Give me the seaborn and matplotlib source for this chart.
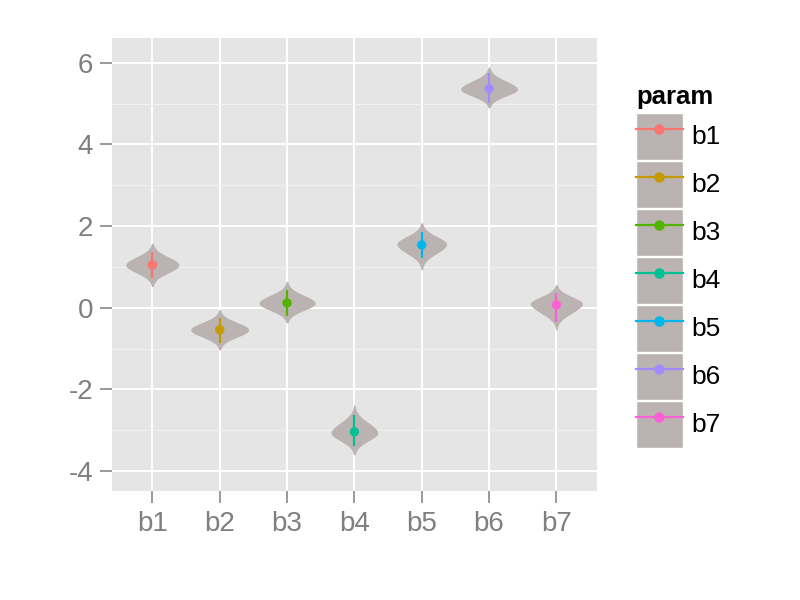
import pandas as pd
import matplotlib
matplotlib.use("Agg")
import matplotlib.pyplot as plt
from matplotlib.patches import Patch
from matplotlib.lines import Line2D
from matplotlib.legend_handler import HandlerTuple
import seaborn as sns

# parameters
params = ["b1", "b2", "b3", "b4", "b5", "b6", "b7"]
colors = ["#F8766D", "#C49A00", "#53B400", "#00C094", "#00B6EB", "#A58AFF", "#FB61D7"]

# binned posterior draws: value of each bin per parameter, and how many draws fall in it
draw_counts = [1, 2, 5, 13, 24, 35, 40, 35, 24, 13, 5, 2, 1]
draws_b1 = [0.52, 0.607, 0.696, 0.785, 0.873, 0.961, 1.05, 1.139, 1.227, 1.316, 1.404, 1.493, 1.58]
draws_b2 = [-1.03, -0.948, -0.866, -0.785, -0.703, -0.622, -0.54, -0.459, -0.377, -0.296, -0.214, -0.133, -0.05]
draws_b3 = [-0.37, -0.288, -0.206, -0.125, -0.043, 0.039, 0.12, 0.207, 0.293, 0.38, 0.466, 0.553, 0.64]
draws_b4 = [-3.6, -3.508, -3.414, -3.321, -3.227, -3.134, -3.04, -2.93, -2.82, -2.71, -2.6, -2.49, -2.38]
draws_b5 = [0.93, 1.033, 1.134, 1.236, 1.337, 1.439, 1.54, 1.63, 1.72, 1.81, 1.9, 1.99, 2.08]
draws_b6 = [4.9, 4.978, 5.056, 5.134, 5.213, 5.292, 5.37, 5.458, 5.547, 5.636, 5.724, 5.812, 5.9]
draws_b7 = [-0.54, -0.437, -0.336, -0.235, -0.133, -0.032, 0.07, 0.152, 0.233, 0.315, 0.396, 0.478, 0.56]

# point estimate and interval per parameter
means = [1.05, -0.54, 0.12, -3.04, 1.54, 5.37, 0.07]
lows = [0.74, -0.86, -0.20, -3.40, 1.23, 5.02, -0.34]
highs = [1.37, -0.25, 0.44, -2.62, 1.86, 5.76, 0.37]

yticks = [-4, -2, 0, 2, 4, 6]

all_draws = [draws_b1, draws_b2, draws_b3, draws_b4, draws_b5, draws_b6, draws_b7]
bins = pd.DataFrame({
    "param": [p for p, d in zip(params, all_draws) for _ in d],
    "value": [v for d in all_draws for v in d],
    "n": draw_counts * len(params),
})
long = bins.loc[bins.index.repeat(bins["n"])].reset_index(drop=True)
summ = pd.DataFrame({"param": params, "mean": means, "lo": lows, "hi": highs})

plt.rcParams["font.family"] = ["Liberation Sans", "DejaVu Sans"]
plt.rcParams["axes.unicode_minus"] = False

fig = plt.figure(figsize=(8, 6), dpi=100)
ax = fig.add_axes([0.14, 0.1817, 0.606, 0.755])
ax.set_facecolor("#E5E5E5")

violin_fill = "#BBB3B1"
sns.violinplot(data=long, x="param", y="value", order=params, color=violin_fill,
               inner=None, cut=0, linewidth=0, width=0.86, density_norm="area",
               bw_adjust=1.3, saturation=1, ax=ax, zorder=3)

ax.vlines(range(len(params)), summ["lo"], summ["hi"], colors=colors, linewidth=1.6, zorder=4)
sns.scatterplot(data=summ, x="param", y="mean", hue="param", palette=colors,
                s=45, edgecolor="none", legend=False, ax=ax, zorder=5)

ax.set_xlim(-0.6, 6.6)
ax.set_ylim(-4.49, 6.61)
ax.set_yticks(yticks)
ax.set_yticklabels([str(t) for t in yticks])
ax.set_yticks([-3, -1, 1, 3, 5], minor=True)
ax.grid(True, which="major", color="white", linewidth=1.4, zorder=0)
ax.grid(True, which="minor", axis="y", color="#F2F2F2", linewidth=0.7, zorder=0)
ax.set_axisbelow(True)
for s in ax.spines.values():
    s.set_visible(False)
ax.tick_params(axis="both", which="major", colors="#7F7F7F", labelsize=20,
               length=8.5, width=1.1)
ax.tick_params(axis="y", which="major", pad=5)
ax.tick_params(axis="x", which="major", pad=6)
ax.tick_params(axis="y", which="minor", length=0)
ax.set_xlabel("")
ax.set_ylabel("")

# legend: grey key (violin fill) with coloured point-range
fig.text(0.796, 0.839, "param", fontsize=18.5, fontweight="bold", ha="left", va="center")
handles = [(Patch(facecolor=violin_fill, edgecolor="white", linewidth=1),
            Line2D([], [], color=c, linewidth=1.6, marker="o", markersize=6.5))
           for c in colors]
leg = fig.legend(handles, params, loc="upper left", bbox_to_anchor=(0.795, 0.812),
                 frameon=False, fontsize=19,
                 handler_map={tuple: HandlerTuple(ndivide=1, pad=0)},
                 handlelength=1.78, handleheight=2.36, labelspacing=0.04,
                 handletextpad=0.3, borderpad=0, borderaxespad=0)

fig.savefig("out.png", dpi=100)
